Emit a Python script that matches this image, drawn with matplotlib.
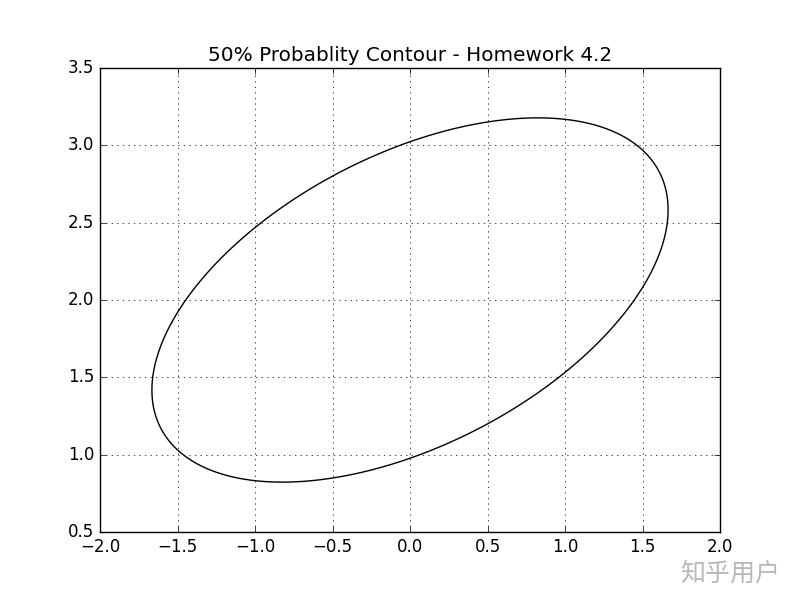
import numpy as np
import matplotlib
matplotlib.use('Agg')
import matplotlib.pyplot as plt

# gaussian parameters
mu = [0.0, 2.0]
sigma = [[2.0, 0.7],
         [0.7, 1.0]]
prob = 0.5

x_lim = [-2.0, 2.0]
y_lim = [0.5, 3.5]

plt.style.use('classic')
plt.rcParams['font.family'] = ['DejaVu Sans']

fig = plt.figure(figsize=(8, 6), dpi=100, facecolor='white')
ax = fig.add_axes([0.125, 0.1133, 0.775, 0.7734])

# mahalanobis distance on a grid, contour at the 50% level
xs = np.linspace(x_lim[0], x_lim[1], 400)
ys = np.linspace(y_lim[0], y_lim[1], 400)
X, Y = np.meshgrid(xs, ys)
inv = np.linalg.inv(np.array(sigma))
dx = X - mu[0]
dy = Y - mu[1]
D = inv[0, 0] * dx * dx + 2 * inv[0, 1] * dx * dy + inv[1, 1] * dy * dy
level = -2 * np.log(1 - prob)

ax.contour(X, Y, D, levels=[level], colors='black', linewidths=1)

ax.set_xlim(x_lim)
ax.set_ylim(y_lim)
ax.set_xticks(np.arange(-2.0, 2.01, 0.5))
ax.set_yticks(np.arange(0.5, 3.51, 0.5))
ax.grid(True)
ax.set_title('50% Probablity Contour - Homework 4.2')

fig.text(0.975, 0.022, '知乎用户', family=['Noto Sans CJK SC', 'DejaVu Sans'],
         fontsize=18, color='#b8b8b8', ha='right', va='bottom')

fig.savefig('out.png', dpi=100, facecolor='white')
